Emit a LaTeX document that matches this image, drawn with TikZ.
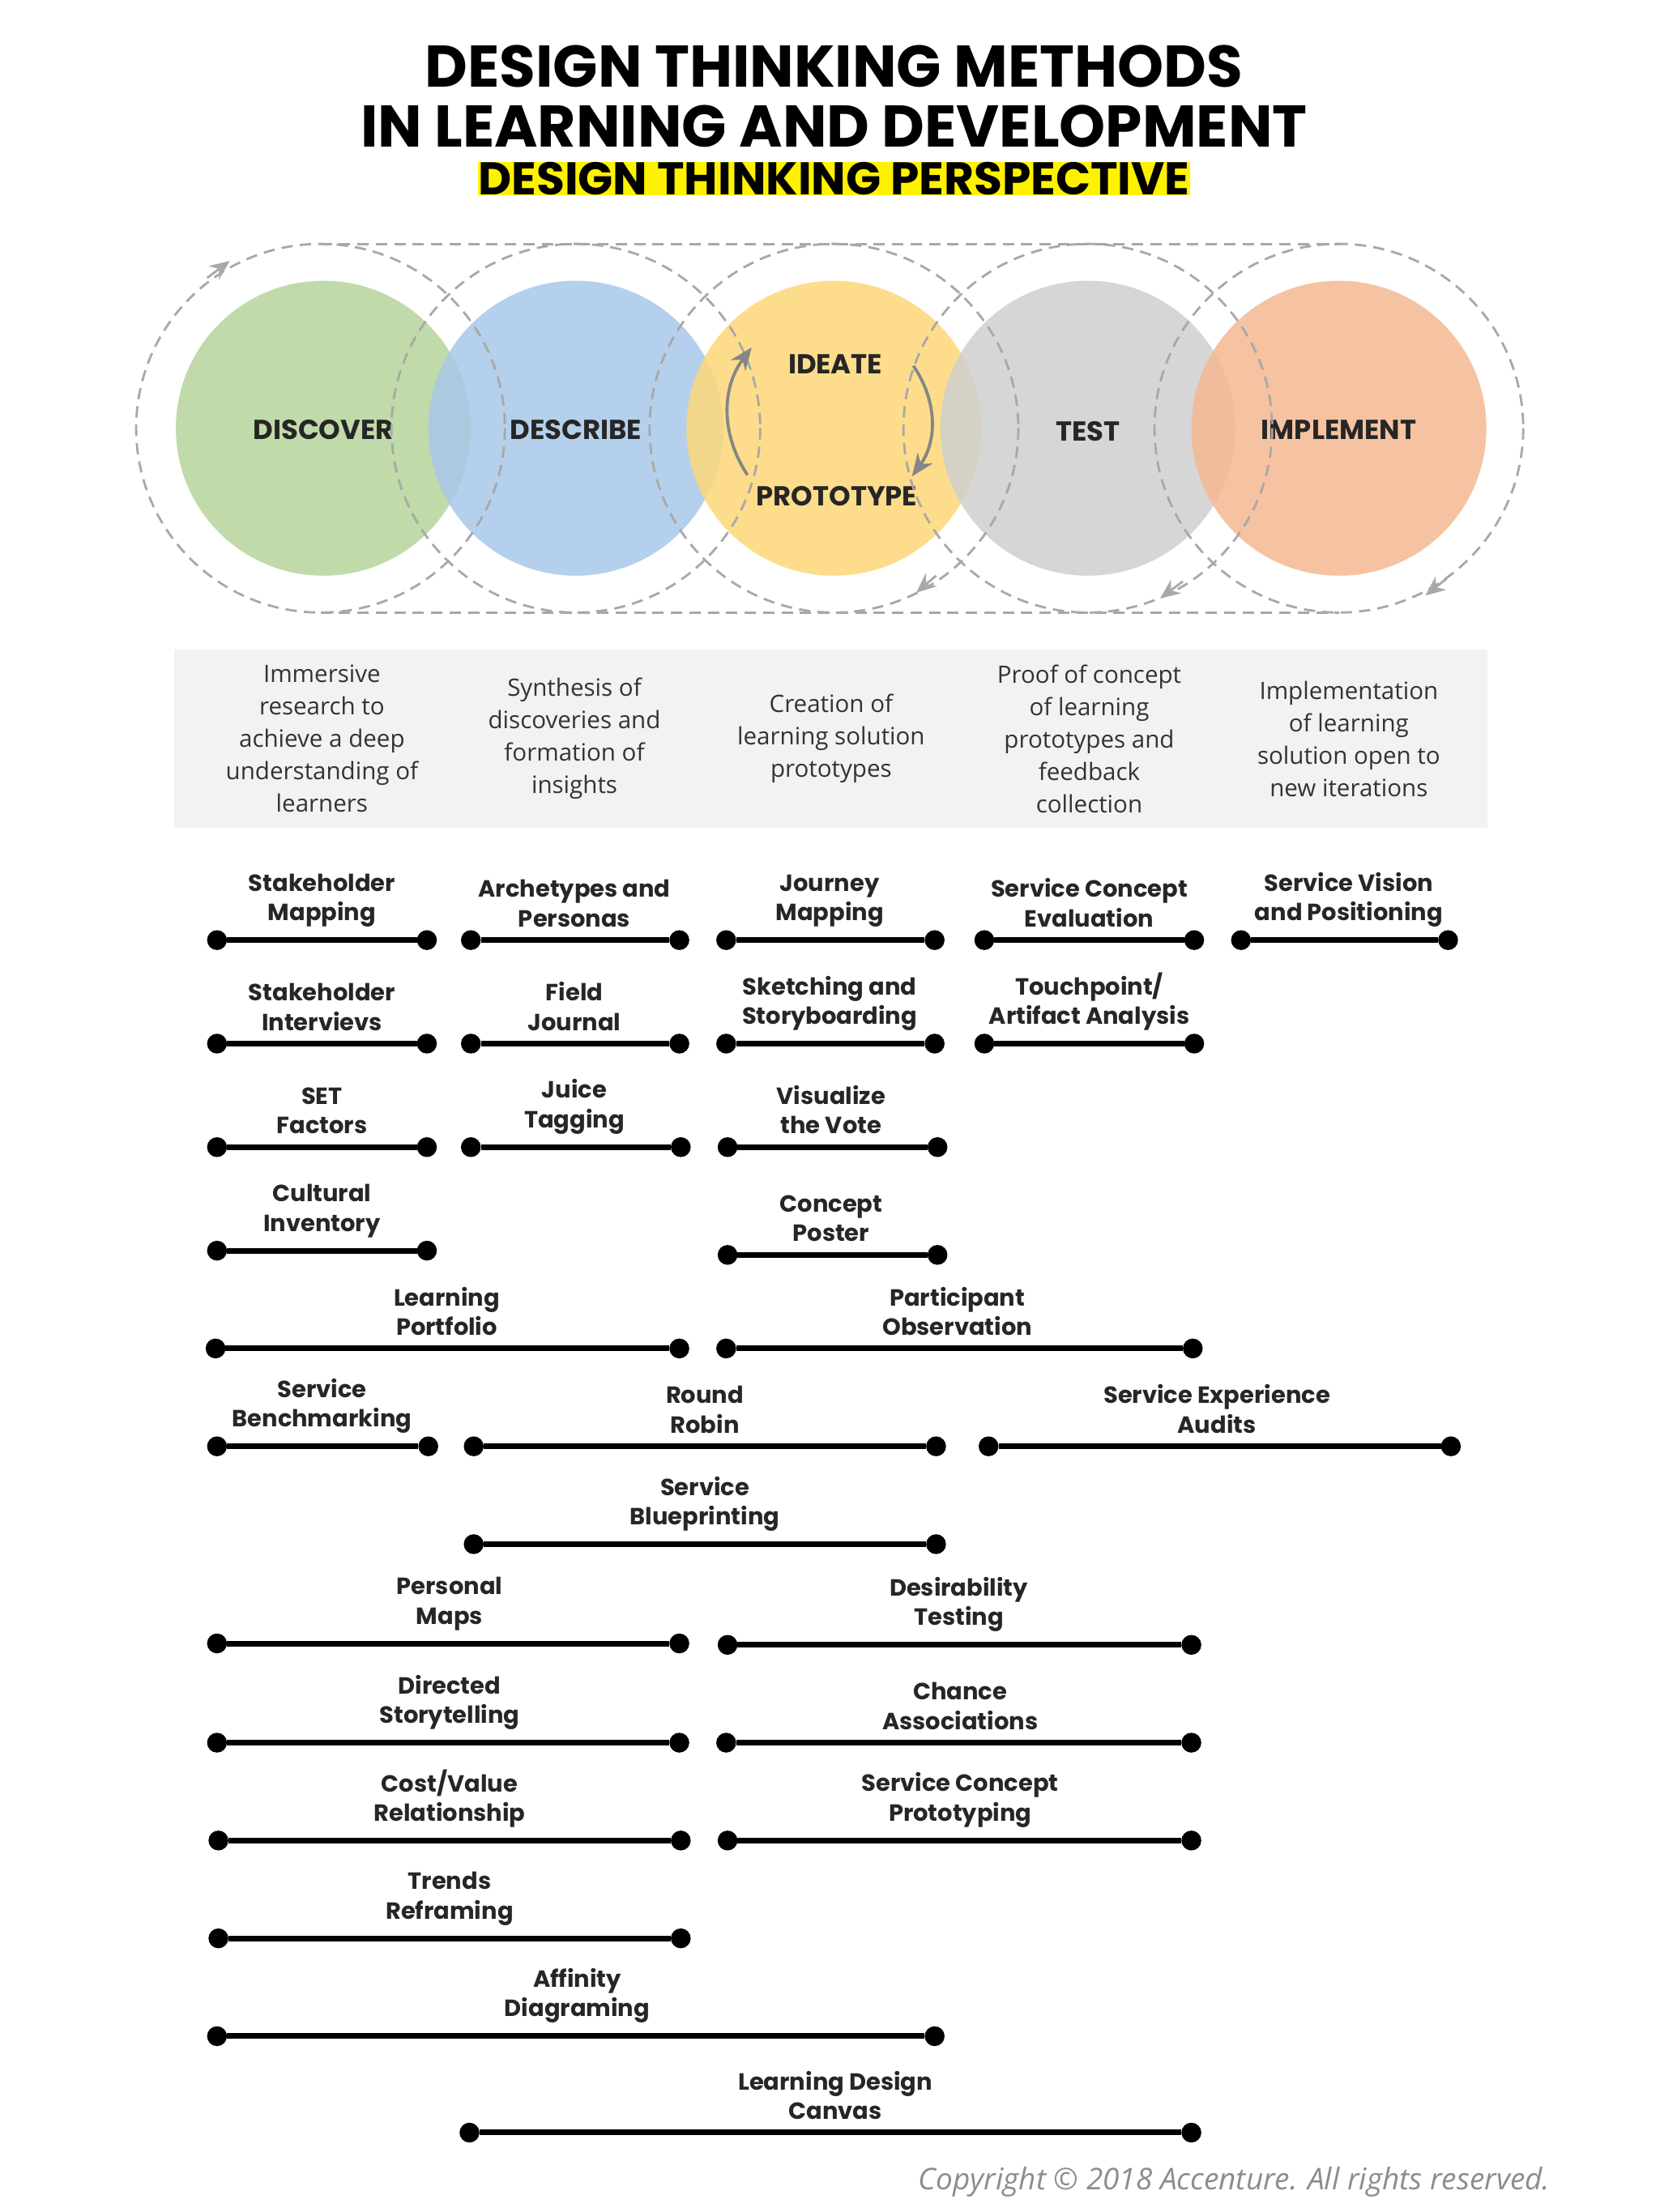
\documentclass[tikz,border=0pt]{standalone}
\usepackage{fontspec}
\setmainfont{Poppins}
\newfontfamily\descfont{Open Sans}
\usetikzlibrary{arrows.meta}
\definecolor{cgreen}{HTML}{B5D49A}
\definecolor{cblue}{HTML}{A9C8E9}
\definecolor{cyellow}{HTML}{FDD878}
\definecolor{cgray}{HTML}{CFCFCF}
\definecolor{corange}{HTML}{F4B992}
\definecolor{band}{HTML}{F2F1F3}
\definecolor{dashgray}{HTML}{A8A8A8}
\tikzset{
 x=1mm,y=-1mm,
 phase/.style={circle,minimum size=208mm,inner sep=0pt,fill opacity=0.85,text opacity=1},
 plab/.style={font=\fontsize{55}{60}\selectfont\bfseries,text=black!85},
 ring/.style={draw=dashgray,line width=1.6mm,dash pattern=on 8mm off 5mm},
 ahead/.style={draw=dashgray,line width=1.6mm,-{Stealth[length=14mm,width=12mm]}},
 desc/.style={align=center,font=\descfont\fontsize{48}{65}\selectfont,text=black!80},
 bar/.style={line width=4mm},
 dot/.style={circle,fill=black,minimum size=14mm,inner sep=0pt},
 lab/.style={align=center,anchor=south,font=\fontsize{47}{59}\selectfont\bfseries,text=black!85},
}
\newcommand{\method}[6]{% name, x1, x2, y, labelx, text
 \node[dot] (#1a) at (#2,#4) {};
 \node[dot] (#1b) at (#3,#4) {};
 \draw[bar] (#1a) -- (#1b);
 \node[lab] (#1l) at (#5,#4-8) {#6};
}
\begin{document}
\begin{tikzpicture}
\useasboundingbox[fill=white] (0,0) rectangle (1170,1560);
% title
\node[font=\fontsize{118}{124}\selectfont\bfseries] (t1) at (588,47) {DESIGN THINKING METHODS};
\node[font=\fontsize{118}{124}\selectfont\bfseries] (t2) at (588,89) {IN LEARNING AND DEVELOPMENT};
\node[fill=yellow,inner xsep=0.5mm,inner ysep=0.3mm,font=\fontsize{92}{96}\selectfont\bfseries] (t3) at (588,126) {DESIGN THINKING PERSPECTIVE};
% circles
\node[phase,fill=cgreen] (c1) at (228,302) {};
\node[phase,fill=cblue] (c2) at (406,302) {};
\node[phase,fill=cyellow] (c3) at (588,302) {};
\node[phase,fill=cgray] (c4) at (767,302) {};
\node[phase,fill=corange] (c5) at (944,302) {};
\node[plab] (l1) at (228,303) {DISCOVER};
\node[plab] (l2) at (406,303) {DESCRIBE};
\node[plab] (l3) at (589,257) {IDEATE};
\node[plab] (l3b) at (590,350) {PROTOTYPE};
\node[plab] (l4) at (767,304) {TEST};
\node[plab] (l5) at (944,303) {IMPLEMENT};
% dashed rings
\foreach \cx in {226,406,588,767,944} \draw[ring] (\cx,302) circle (130);
\draw[ring] (226,172) -- (944,172);
\draw[ring] (226,432) -- (944,432);
% small arrowheads on rings
\draw[ahead] (146,196) -- (162,184);
\draw[ahead] (660,406) -- (646,418);
\draw[ahead] (834,410) -- (818,422);
\draw[ahead] (1020,408) -- (1005,420);
% ideate arrows
\draw[draw=dashgray!80!black,line width=2.2mm,-{Stealth[length=16mm,width=13mm]}] (527,335) to[bend left=35] (530,245);
\draw[draw=dashgray!80!black,line width=2.2mm,-{Stealth[length=16mm,width=13mm]}] (644,258) to[bend left=35] (643,336);
% band
\fill[band] (123,458) rectangle (1049,584);
\node[desc] (d1) at (227,521) {Immersive\\research to\\achieve a deep\\understanding of\\learners};
\node[desc] (d2) at (405,521) {Synthesis of\\discoveries and\\formation of\\insights};
\node[desc] (d3) at (586,521) {Creation of\\learning solution\\prototypes};
\node[desc] (d4) at (768,521) {Proof of concept\\of learning\\prototypes and\\feedback\\collection};
\node[desc] (d5) at (951,521) {Implementation\\of learning\\solution open to\\new iterations};
% methods
\method{m1}{153}{301}{663}{227}{Stakeholder\\Mapping}
\method{m2}{332}{479}{663}{405}{Archetypes and\\Personas}
\method{m3}{512}{659}{663}{585}{Journey\\Mapping}
\method{m4}{694}{842}{663}{768}{Service Concept\\Evaluation}
\method{m5}{875}{1021}{663}{951}{Service Vision\\and Positioning}
\method{m6}{153}{301}{736}{227}{Stakeholder\\Intervievs}
\method{m7}{332}{479}{736}{405}{Field\\Journal}
\method{m8}{512}{659}{736}{585}{Sketching and\\Storyboarding}
\method{m9}{694}{842}{736}{768}{Touchpoint/\\Artifact Analysis}
\method{m10}{153}{301}{809}{227}{SET\\Factors}
\method{m11}{332}{480}{809}{405}{Juice\\Tagging}
\method{m12}{513}{661}{809}{586}{Visualize\\the Vote}
\method{m13}{153}{301}{882}{227}{Cultural\\Inventory}
\method{m14}{513}{661}{885}{586}{Concept\\Poster}
\method{m15}{152}{479}{951}{315}{Learning\\Portfolio}
\method{m16}{512}{841}{951}{675}{Participant\\Observation}
\method{m17}{153}{302}{1020}{227}{Service\\Benchmarking}
\method{m18}{334}{660}{1020}{497}{Round\\Robin}
\method{m19}{697}{1023}{1020}{858}{Service Experience\\Audits}
\method{m20}{334}{660}{1089}{497}{Service\\Blueprinting}
\method{m21}{153}{479}{1159}{317}{Personal\\Maps}
\method{m22}{513}{840}{1160}{676}{Desirability\\Testing}
\method{m23}{153}{479}{1229}{317}{Directed\\Storytelling}
\method{m24}{512}{840}{1229}{677}{Chance\\Associations}
\method{m25}{154}{480}{1298}{317}{Cost/Value\\Relationship}
\method{m26}{513}{840}{1298}{677}{Service Concept\\Prototyping}
\method{m27}{154}{480}{1367}{317}{Trends\\Reframing}
\method{m28}{153}{659}{1436}{407}{Affinity\\Diagraming}
\method{m29}{331}{840}{1504}{589}{Learning Design\\Canvas}
\node[anchor=east,font=\descfont\itshape\fontsize{60}{64}\selectfont,text=black!45] (copy) at (1094,1539) {Copyright © 2018 Accenture. All rights reserved.};
\end{tikzpicture}
\end{document}
